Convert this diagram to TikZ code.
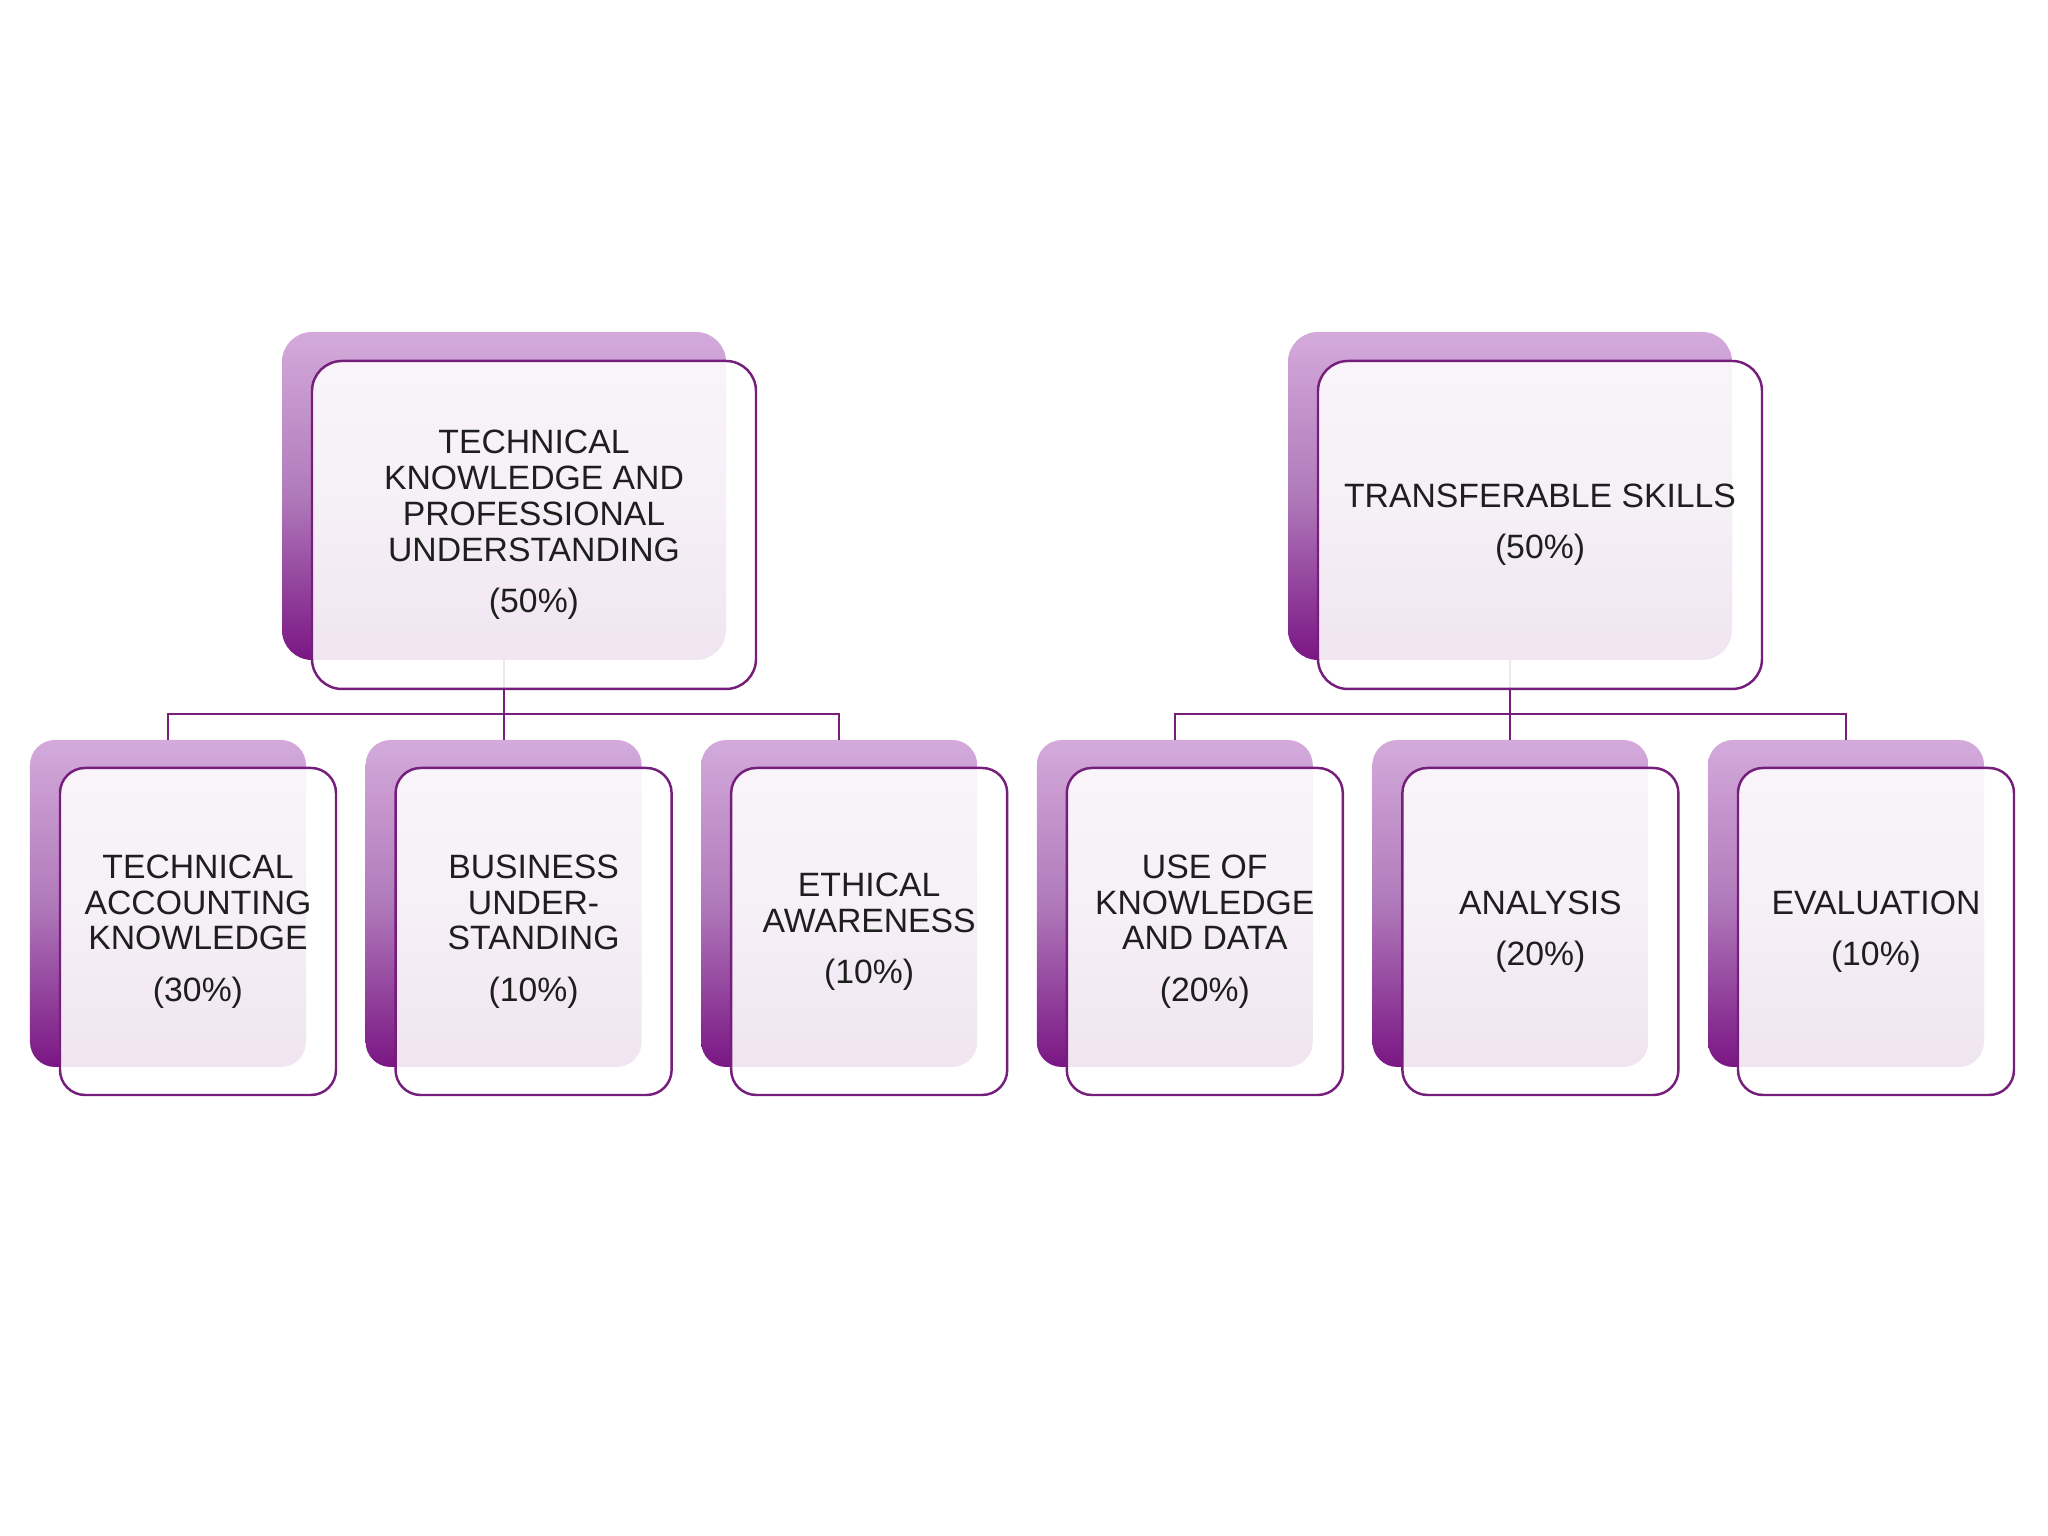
\documentclass[tikz,border=0pt]{standalone}
\usepackage{fontspec}
\setmainfont{Liberation Sans}
\usetikzlibrary{positioning}
\definecolor{cardline}{RGB}{118,30,124}
\definecolor{cardtop}{RGB}{212,170,219}
\definecolor{cardmid}{RGB}{176,122,186}
\definecolor{cardbottom}{RGB}{122,22,132}
\definecolor{cardtext}{RGB}{30,30,30}

\begin{document}
\begin{tikzpicture}
  [backcard/.style={rectangle,inner sep=0pt,outer sep=0pt,rounded corners=2.5mm,top color=cardtop,bottom color=cardbottom,middle color=cardmid},
   frontcard/.style={rectangle,inner sep=0pt,rounded corners=2.5mm,draw=cardline,line width=0.7pt,fill=white,fill opacity=0.89,text opacity=1,text=cardtext,align=center,font=\fontsize{9.6pt}{10.2pt}\selectfont},
   parentback/.style={backcard,minimum width=4.44cm,minimum height=3.28cm,rounded corners=3mm},
   parentfront/.style={frontcard,minimum width=4.44cm,minimum height=3.28cm,rounded corners=3mm},
   childback/.style={backcard,minimum width=2.76cm,minimum height=3.27cm},
   childfront/.style={frontcard,minimum width=2.76cm,minimum height=3.27cm},
   connector/.style={draw=cardline,line width=0.6pt}]
  \useasboundingbox [fill=white] (0,0) rectangle (20.48,15.36);
  % back cards
  \node (tkpuback) at (5.04,10.40) [parentback] {};
  \node (tsback) at (15.10,10.40) [parentback] {};
  \node (tackback) at (1.68,6.325) [childback] {};
  \node (busback) [childback,right=0.596 of tackback] {};
  \node (ethback) [childback,right=0.596 of busback] {};
  \node (ukdback) [childback,right=0.596 of ethback] {};
  \node (anaback) [childback,right=0.596 of ukdback] {};
  \node (evaback) [childback,right=0.596 of anaback] {};
  % connectors
  \draw [connector] (tkpuback.south) -- ++(0,-0.54) -| (tackback.north);
  \draw [connector] (tkpuback.south) -- (tkpuback.south |- busback.north);
  \draw [connector] (tkpuback.south) -- ++(0,-0.54) -| (ethback.north);
  \draw [connector] (tsback.south) -- ++(0,-0.54) -| (ukdback.north);
  \draw [connector] (tsback.south) -- (tsback.south |- anaback.north);
  \draw [connector] (tsback.south) -- ++(0,-0.54) -| (evaback.north);
  % front cards
  \node (tkpu) at ([shift={(0.30,-0.29)}]tkpuback.center) [parentfront] {TECHNICAL\\KNOWLEDGE AND\\PROFESSIONAL\\UNDERSTANDING\\[4.4pt](50\%)};
  \node (ts) at ([shift={(0.30,-0.29)}]tsback.center) [parentfront] {TRANSFERABLE SKILLS\\[4.4pt](50\%)};
  \node (tack) at ([shift={(0.30,-0.28)}]tackback.center) [childfront] {TECHNICAL\\ACCOUNTING\\KNOWLEDGE\\[4.4pt](30\%)};
  \node (bus) at ([shift={(0.30,-0.28)}]busback.center) [childfront] {BUSINESS\\UNDER-\\STANDING\\[4.4pt](10\%)};
  \node (eth) at ([shift={(0.30,-0.28)}]ethback.center) [childfront] {ETHICAL\\AWARENESS\\[4.4pt](10\%)};
  \node (ukd) at ([shift={(0.30,-0.28)}]ukdback.center) [childfront] {USE OF\\KNOWLEDGE\\AND DATA\\[4.4pt](20\%)};
  \node (ana) at ([shift={(0.30,-0.28)}]anaback.center) [childfront] {ANALYSIS\\[4.4pt](20\%)};
  \node (eva) at ([shift={(0.30,-0.28)}]evaback.center) [childfront] {EVALUATION\\[4.4pt](10\%)};
\end{tikzpicture}
\end{document}
